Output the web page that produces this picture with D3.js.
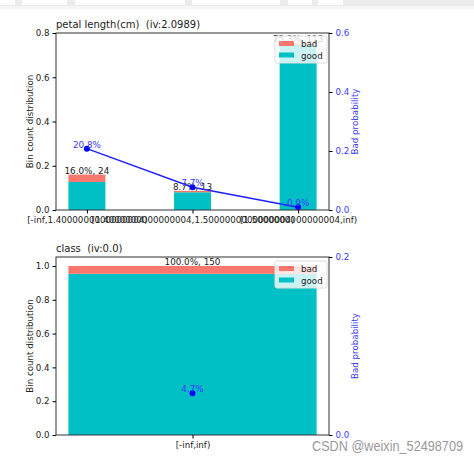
<!DOCTYPE html>
<html>
<head>
<meta charset="utf-8">
<script src="https://cdn.jsdelivr.net/npm/d3@7"></script>
<style>
  body { margin: 0; background: #fff; }
  svg { display: block; font-family: "DejaVu Sans", sans-serif; }
  text { white-space: pre; }
</style>
</head>
<body>
<div id="vis"></div>
<script>
// panel 1: petal length(cm)
const bins1 = ["[-inf,1.4000000000000004)", "[1.4000000000000004,1.5000000000000004)", "[1.5000000000000004,inf)"];
const good1 = [19, 12, 112];
const bad1 = [5, 1, 1];
const badprob1 = [0.208, 0.077, 0.009];
const binLabel1 = ["16.0%, 24", "8.7%, 13", "75.3%, 113"];
const probLabel1 = ["20.8%", "7.7%", "0.9%"];

// panel 2: class
const bins2 = ["[-inf,inf)"];
const good2 = [143];
const bad2 = [7];
const badprob2 = [0.047];
const binLabel2 = ["100.0%, 150"];
const probLabel2 = ["4.7%"];

const total = 150;
const badColor = "#F9776D";
const goodColor = "#00C0C5";
const lineColor = "#2020ff";

let width = 474;
let height = 458;
const fs = "8.7px";

let svg = d3.select("#vis").append("svg").attr("width", width).attr("height", height)

// browser strip at the very top of the screenshot
svg.append("rect").attr("x", 0).attr("y", 0).attr("width", width).attr("height", 6).attr("fill", "#ececec")
const tabs = [[0, 15], [22, 67], [75, 185], [192, 280], [288, 312], [318, 343]]
tabs.forEach(t => {
    svg.append("rect").attr("x", t[0]).attr("y", 0).attr("width", t[1] - t[0]).attr("height", 5).attr("fill", "#fff")
})
svg.append("rect").attr("x", 0).attr("y", 6).attr("width", width).attr("height", 3).attr("fill", "#f6f6f6")

function drawPanel(opt) {
    const n = opt.bins.length
    const pad = ((n - 1) + 0.35) * 0.05
    const x = d3.scaleLinear().domain([-0.175 - pad, n - 1 + 0.175 + pad]).range([opt.left, opt.right])
    const y = d3.scaleLinear().domain([0, opt.yMax]).range([opt.bottom, opt.top])
    const y2 = d3.scaleLinear().domain([0, opt.y2Max]).range([opt.bottom, opt.top])
    const bw = x(0.35) - x(0)

    const g = svg.append("g")

    // bars: good at bottom, bad stacked above
    const goodD = opt.good.map(v => v / total)
    const badD = opt.bad.map(v => v / total)
    g.selectAll(".good").data(goodD).enter().append("rect")
        .attr("x", (d, i) => x(i) - bw / 2)
        .attr("y", d => y(d))
        .attr("width", bw)
        .attr("height", d => y(0) - y(d))
        .attr("fill", goodColor)
    g.selectAll(".bad").data(badD).enter().append("rect")
        .attr("x", (d, i) => x(i) - bw / 2)
        .attr("y", (d, i) => y(d + goodD[i]))
        .attr("width", bw)
        .attr("height", (d, i) => y(goodD[i]) - y(d + goodD[i]))
        .attr("fill", badColor)

    // bar labels
    g.selectAll(".blab").data(opt.binLabel).enter().append("text")
        .attr("x", (d, i) => x(i))
        .attr("y", (d, i) => y(goodD[i] + badD[i]) - 1)
        .attr("text-anchor", "middle")
        .attr("font-size", "8.8px")
        .attr("fill", "#222")
        .text(d => d)

    // bad probability line
    const line = d3.line().x((d, i) => x(i)).y(d => y2(d))
    g.append("path").datum(opt.badprob).attr("d", line)
        .attr("fill", "none").attr("stroke", lineColor).attr("stroke-width", 1.5)
    g.selectAll(".pt").data(opt.badprob).enter().append("circle")
        .attr("cx", (d, i) => x(i)).attr("cy", d => y2(d)).attr("r", 3).attr("fill", "#0000ff")
    g.selectAll(".plab").data(opt.probLabel).enter().append("text")
        .attr("x", (d, i) => x(i))
        .attr("y", (d, i) => y2(opt.badprob[i]) - 1)
        .attr("text-anchor", "middle")
        .attr("font-size", "8.8px")
        .attr("fill", "#3a3aff")
        .text(d => d)

    // frame
    g.append("rect").attr("x", opt.left).attr("y", opt.top)
        .attr("width", opt.right - opt.left).attr("height", opt.bottom - opt.top)
        .attr("fill", "none").attr("stroke", "#333").attr("stroke-width", 1)

    // axes
    const ax = g.append("g").attr("transform", "translate(0," + opt.bottom + ")")
        .call(d3.axisBottom(x).tickValues(d3.range(n)).tickFormat(i => opt.bins[i]).tickSize(3.5).tickSizeOuter(0))
    ax.select(".domain").remove()
    ax.selectAll("text").attr("font-size", fs).attr("fill", "#222").attr("font-family", "DejaVu Sans")

    const ay = g.append("g").attr("transform", "translate(" + opt.left + ",0)")
        .call(d3.axisLeft(y).tickValues(opt.yTicks).tickFormat(d3.format(".1f")).tickSize(3.5).tickSizeOuter(0))
    ay.select(".domain").remove()
    ay.selectAll("text").attr("font-size", fs).attr("fill", "#222").attr("font-family", "DejaVu Sans")

    const ay2 = g.append("g").attr("transform", "translate(" + opt.right + ",0)")
        .call(d3.axisRight(y2).tickValues(opt.y2Ticks).tickFormat(d3.format(".1f")).tickSize(3.5).tickSizeOuter(0))
    ay2.select(".domain").remove()
    ay2.selectAll("text").attr("font-size", fs).attr("fill", "#3a3aff").attr("font-family", "DejaVu Sans")

    // axis titles
    const mid = (opt.top + opt.bottom) / 2
    g.append("text").attr("transform", "translate(33," + mid + ") rotate(-90)")
        .attr("text-anchor", "middle").attr("font-size", fs).attr("fill", "#222")
        .text("Bin count distribution")
    g.append("text").attr("transform", "translate(358," + mid + ") rotate(-90)")
        .attr("text-anchor", "middle").attr("font-size", fs).attr("fill", "#3a3aff")
        .text("Bad probability")

    // title
    g.append("text").attr("x", opt.left).attr("y", opt.top - 5)
        .attr("font-size", "10px").attr("fill", "#222")
        .text(opt.title)

    // legend
    const lg = g.append("g").attr("transform", "translate(" + opt.legX + "," + opt.legY + ")")
    lg.append("rect").attr("width", 52).attr("height", 27).attr("rx", 2)
        .attr("fill", "#fff").attr("fill-opacity", 0.8).attr("stroke", "#ddd")
    const keys = [["bad", badColor], ["good", goodColor]]
    keys.forEach((k, i) => {
        lg.append("rect").attr("x", 4).attr("y", 5 + i * 11.5).attr("width", 15).attr("height", 5).attr("fill", k[1])
        lg.append("text").attr("x", 26).attr("y", 11 + i * 11.5).attr("font-size", fs).attr("fill", "#222").text(k[0])
    })
}

drawPanel({
    bins: bins1, good: good1, bad: bad1, badprob: badprob1, binLabel: binLabel1, probLabel: probLabel1,
    left: 56, right: 329, top: 33, bottom: 210,
    yMax: 0.8, yTicks: [0, 0.2, 0.4, 0.6, 0.8], y2Max: 0.6, y2Ticks: [0, 0.2, 0.4, 0.6],
    title: "petal length(cm)  (iv:2.0989)", legX: 275, legY: 36
})

drawPanel({
    bins: bins2, good: good2, bad: bad2, badprob: badprob2, binLabel: binLabel2, probLabel: probLabel2,
    left: 56, right: 329, top: 257, bottom: 435,
    yMax: 1.053, yTicks: [0, 0.2, 0.4, 0.6, 0.8, 1.0], y2Max: 0.2, y2Ticks: [0, 0.2],
    title: "class  (iv:0.0)", legX: 275, legY: 261
})

// watermark
svg.append("text").attr("x", 312).attr("y", 451)
    .attr("font-family", "Liberation Sans, Arial, sans-serif").attr("font-size", "14px")
    .attr("textLength", 151).attr("lengthAdjust", "spacingAndGlyphs")
    .attr("fill", "#9a9a9a")
    .text("CSDN @weixin_52498709")
</script>
</body>
</html>
